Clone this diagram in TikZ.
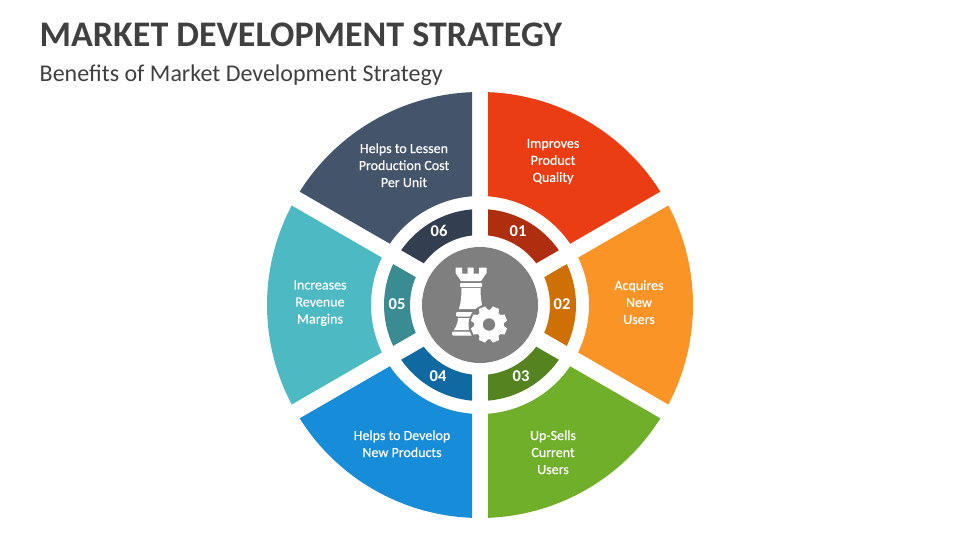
\documentclass[tikz,border=0pt]{standalone}
\usepackage{fontspec}
\setmainfont{Carlito}
\newfontfamily\labelfont[FakeBold=0.35]{Carlito}
\definecolor{titlec}{HTML}{404040}
\definecolor{c1}{HTML}{EA3D14}\definecolor{d1}{HTML}{AF2E0F}
\definecolor{c2}{HTML}{FB9426}\definecolor{d2}{HTML}{CE7005}
\definecolor{c3}{HTML}{6FAF29}\definecolor{d3}{HTML}{548320}
\definecolor{c4}{HTML}{178CD8}\definecolor{d4}{HTML}{1169A2}
\definecolor{c5}{HTML}{4DB9C2}\definecolor{d5}{HTML}{3A8B92}
\definecolor{c6}{HTML}{44546A}\definecolor{d6}{HTML}{333F50}
\definecolor{hubc}{HTML}{7F7F7F}
\tikzset{x=1pt,y=-1pt,
 seglabel/.style={text=white,font=\labelfont\fontsize{14}{17}\selectfont,align=center,inner sep=0pt},
 numlabel/.style={text=white,font=\fontsize{16.5}{17}\selectfont\bfseries,inner sep=0pt},
 titletext/.style={text=titlec,anchor=west,inner sep=0pt}}
\newcommand{\ringseg}[5]{%
 \pgfmathsetmacro{\da}{asin(8/#3)}\pgfmathsetmacro{\db}{asin(8/#4)}
 \pgfmathsetmacro{\aa}{#1+\da}\pgfmathsetmacro{\ab}{#2-\da}
 \pgfmathsetmacro{\ba}{#1+\db}\pgfmathsetmacro{\bb}{#2-\db}
 \fill[#5] ({480+#3*cos(\aa)},{305+#3*sin(\aa)}) arc[start angle=\aa,end angle=\ab,radius=#3]
  -- ({480+#4*cos(\bb)},{305+#4*sin(\bb)}) arc[start angle=\bb,end angle=\ba,radius=#4] -- cycle;}
\begin{document}
\begin{tikzpicture}
\useasboundingbox (0,0) rectangle (960,540);
\node[titletext,font=\fontsize{36}{40}\selectfont\bfseries] (title) at (39.5,35) {MARKET DEVELOPMENT STRATEGY};
\node[titletext,font=\fontsize{24}{28}\selectfont] (sub) at (39.5,75) {Benefits of Market Development Strategy};
\ringseg{-90}{-30}{213}{109}{c1}\ringseg{-90}{-30}{96}{70}{d1}
\ringseg{-30}{30}{213}{109}{c2}\ringseg{-30}{30}{96}{70}{d2}
\ringseg{30}{90}{213}{109}{c3}\ringseg{30}{90}{96}{70}{d3}
\ringseg{90}{150}{213}{109}{c4}\ringseg{90}{150}{96}{70}{d4}
\ringseg{150}{210}{213}{109}{c5}\ringseg{150}{210}{96}{70}{d5}
\ringseg{210}{270}{213}{109}{c6}\ringseg{210}{270}{96}{70}{d6}
\fill[hubc] (480,305) circle[radius=58];
% rook
\fill[white] (455.5,267.5) -- (462,267.5) -- (462,273.5) -- (467.5,273.5) -- (467.5,267.5) -- (473.5,267.5) -- (473.5,273.5) -- (479,273.5) -- (479,267.5) -- (486.5,267.5) -- (486.5,273) -- (481,281) -- (461,281) -- (455.5,273) -- cycle;
\fill[white,rounded corners=0.8pt] (460,283) rectangle (482,287);
\fill[white] (461.5,288) -- (480.5,288) .. controls (480.5,296) and (481,302) .. (483,309) -- (459,309) .. controls (461,302) and (461.5,296) .. (461.5,288) -- cycle;
\fill[white,rounded corners=1pt] (456,312) rectangle (476,316.5);
\fill[white] (458,318) -- (472,318) -- (472,325) -- (476,330) -- (454,330) .. controls (456.5,326) and (458,322) .. (458,318) -- cycle;
\fill[white,rounded corners=1pt] (452,331.5) rectangle (476,335.5);
% gear
\fill[hubc] (489,324.5) circle[radius=20.5];
\foreach \t in {0,45,...,315}{\fill[white,rotate around={\t+22.5:(489,324.5)}] (484,312) -- (485.7,306.3) -- (492.3,306.3) -- (494,312) -- cycle;}
\fill[white,even odd rule] (489,324.5) circle[radius=14.8] (489,324.5) circle[radius=6.3];
% labels
\node[seglabel] (t1) at (553,161.5) {Improves\\Product\\Quality};
\node[seglabel] (t2) at (639,302.2) {Acquires\\New\\Users};
\node[seglabel] (t3) at (553,452.2) {Up-Sells\\Current\\Users};
\node[seglabel] (t4) at (402,443.7) {Helps to Develop\\New Products};
\node[seglabel] (t5) at (320,303.2) {Increases\\Revenue\\Margins};
\node[seglabel] (t6) at (404,165.2) {Helps to Lessen\\Production Cost\\Per Unit};
\node[numlabel] (n1) at (518,231) {01};
\node[numlabel] (n2) at (562,304) {02};
\node[numlabel] (n3) at (521,376) {03};
\node[numlabel] (n4) at (438,376) {04};
\node[numlabel] (n5) at (397,304) {05};
\node[numlabel] (n6) at (439,231) {06};
\end{tikzpicture}
\end{document}
